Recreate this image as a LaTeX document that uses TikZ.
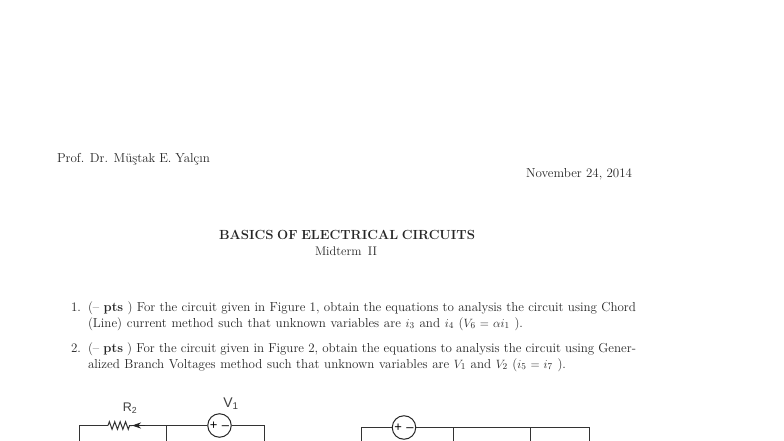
\documentclass[tikz,border=0pt]{standalone}
\usepackage{fontspec}
\usepackage{amsmath}
\usetikzlibrary{arrows.meta,decorations.pathmorphing}
\setsansfont{Liberation Sans}
\tikzset{
  txt/.style={anchor=base west,inner sep=0pt,outer sep=0pt,font=\fontsize{13}{15}\selectfont,text=black!85},
  wire/.style={draw=black!80,line width=1pt},
  src/.style={circle,draw=black!85,line width=1pt,minimum size=23.5pt,inner sep=0pt,fill=white,font=\sffamily\fontsize{13}{13}\selectfont},
  lbl/.style={inner sep=0pt,text=black!75,font=\sffamily\fontsize{12.5}{12.5}\selectfont},
}
\newcommand{\fitline}[2]{\makebox[#1pt][s]{#2}}
\begin{document}
\begin{tikzpicture}[x=1pt,y=-1pt]
\useasboundingbox (0,0) rectangle (784,441);
\fill[white] (0,0) rectangle (784,441);
\node[txt] (prof) at (57,162) {\fitline{153}{Prof. Dr. Müştak E. Yalçın}};
\node[txt] (date) at (526,177) {\fitline{106}{November 24, 2014}};
\node[txt,font=\fontsize{13.2}{15}\selectfont\bfseries] (title) at (219,239) {\fitline{256}{BASICS OF ELECTRICAL CIRCUITS}};
\node[txt,font=\fontsize{12.5}{14}\selectfont] (mid) at (315,255) {\fitline{62}{Midterm II}};
\node[txt] (n1) at (71,311) {1.};
\node[txt] (l1a) at (88,311) {\fitline{548}{(-- \textbf{pts} ) For the circuit given in Figure 1, obtain the equations to analysis the circuit using Chord}};
\node[txt] (l1b) at (88,327) {\fitline{435}{(Line) current method such that unknown variables are $i_3$ and $i_4$ ($V_6=\alpha i_1$ ).}};
\node[txt] (n2) at (71,352) {2.};
\node[txt] (l2a) at (88,352) {\fitline{548}{(-- \textbf{pts} ) For the circuit given in Figure 2, obtain the equations to analysis the circuit using Gener-}};
\node[txt] (l2b) at (88,368) {\fitline{478}{alized Branch Voltages method such that unknown variables are $V_1$ and $V_2$ ($i_5=i_7$ ).}};

% Figure 1
\coordinate (a1) at (79.5,441);
\coordinate (a2) at (79.5,425.5);
\coordinate (r1) at (108,425.5);
\coordinate (r2) at (132,425.5);
\coordinate (j1) at (166.5,425.5);
\coordinate (j1b) at (166.5,441);
\coordinate (a3) at (264.5,425.5);
\coordinate (a4) at (264.5,441);
\coordinate (tail) at (145,425.5);
\node[src] (v1) at (219.5,425.5) {\raisebox{0.5pt}{+\,\,--}};
\draw[wire] (a1) -- (a2) -- (r1);
\draw[wire,decorate,decoration={zigzag,segment length=5.4pt,amplitude=3.8pt}] (r1) -- (r2);
\draw[wire] (r2) -- (j1) -- (v1);
\draw[wire] (v1) -- (a3) -- (a4);
\draw[wire] (j1) -- (j1b);
\draw[black!85,line width=1pt,-{Stealth[length=9pt,width=6pt]}] (tail) -- (r2);
\node[lbl] (r2l) at (130,408) {R\textsubscript{2}};
\node[lbl,font=\sffamily\fontsize{14}{14}\selectfont] (v1l) at (231,404) {V\textsubscript{1}};

% Figure 2
\coordinate (b1) at (361.5,441);
\coordinate (b2) at (361.5,427.5);
\coordinate (j2) at (453.5,427.5);
\coordinate (j2b) at (453.5,441);
\coordinate (j3) at (530.5,427.5);
\coordinate (j3b) at (530.5,441);
\coordinate (b3) at (589.5,427.5);
\coordinate (b4) at (589.5,441);
\node[src] (v2) at (404,427.5) {\raisebox{0.5pt}{+\,\,--}};
\draw[wire] (b1) -- (b2) -- (v2);
\draw[wire] (v2) -- (j2) -- (j3) -- (b3) -- (b4);
\draw[wire] (j2) -- (j2b);
\draw[wire] (j3) -- (j3b);
\end{tikzpicture}
\end{document}
